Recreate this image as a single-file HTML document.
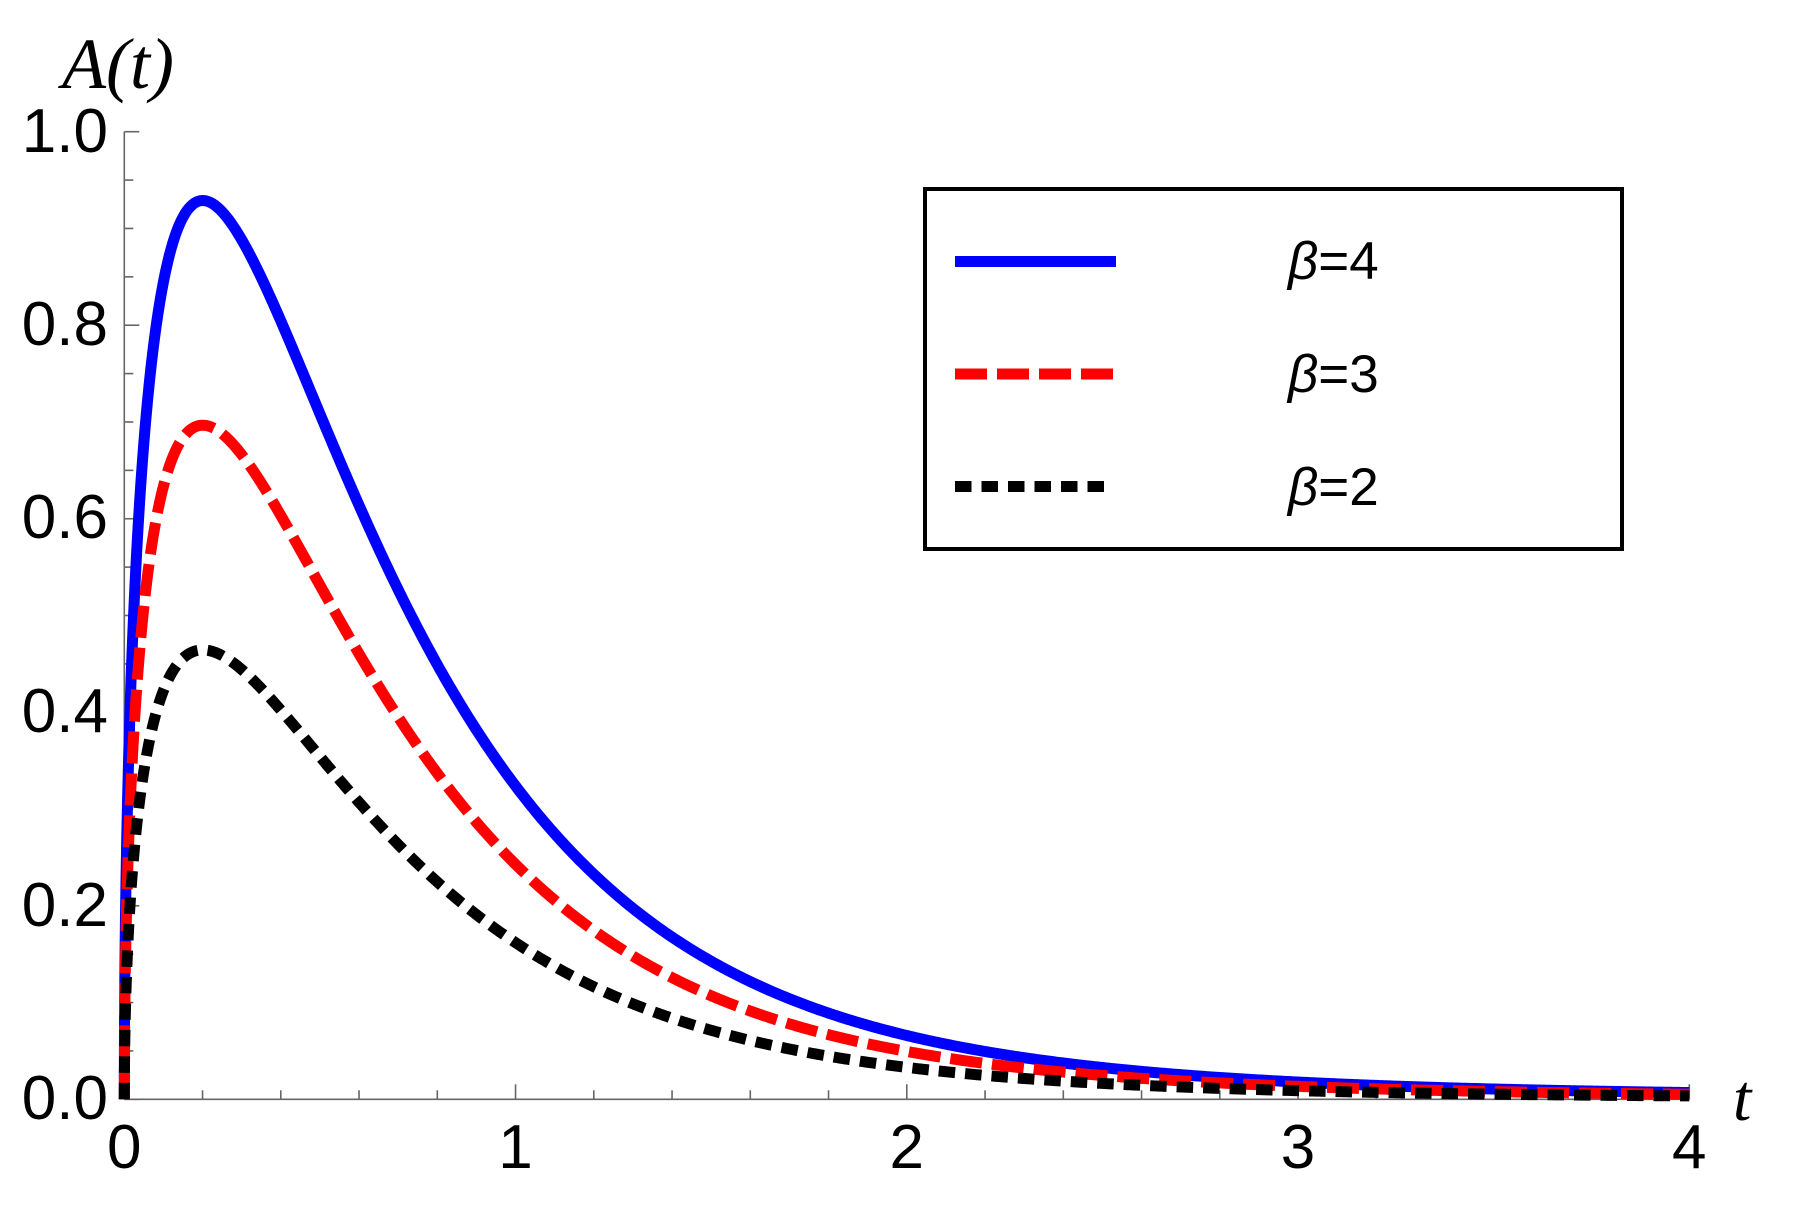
<!DOCTYPE html>
<html><head><meta charset="utf-8"><style>
html,body{margin:0;padding:0;background:#fff}
svg{display:block}
text{font-family:"Liberation Sans",sans-serif;fill:#000}
</style></head><body>
<svg id="s" width="1793" height="1212" viewBox="0 0 1793 1212" xmlns="http://www.w3.org/2000/svg">
<g id="axes" stroke="#666" stroke-width="1.6" fill="none"></g>
<g font-size="62">
<text x="108" y="1119" text-anchor="end">0.0</text>
<text x="108" y="926" text-anchor="end">0.2</text>
<text x="108" y="732" text-anchor="end">0.4</text>
<text x="108" y="538" text-anchor="end">0.6</text>
<text x="108" y="345" text-anchor="end">0.8</text>
<text x="108" y="152" text-anchor="end">1.0</text>
<text x="124.3" y="1168" text-anchor="middle">0</text>
<text x="515.5" y="1168" text-anchor="middle">1</text>
<text x="906.8" y="1168" text-anchor="middle">2</text>
<text x="1298" y="1168" text-anchor="middle">3</text>
<text x="1689.3" y="1168" text-anchor="middle">4</text>
</g>
<text x="1733" y="1120" font-size="66" font-style="italic" style="font-family:'Liberation Serif',serif">t</text>
<text x="62" y="88" font-size="72" font-style="italic" style="font-family:'Liberation Serif',serif">A(t)</text>
<g id="curves" fill="none" stroke-width="11"></g>
<rect x="925" y="189" width="697" height="360" fill="none" stroke="#000" stroke-width="4"/>
<line x1="955" y1="261.5" x2="1116" y2="261.5" stroke="#0000ff" stroke-width="11"/>
<line x1="955" y1="374" x2="1114" y2="374" stroke="#ff0000" stroke-width="11" stroke-dasharray="32 10"/>
<line x1="955" y1="486.5" x2="1110" y2="486.5" stroke="#000" stroke-width="11" stroke-dasharray="16.5 10"/>
<g font-size="53">
<text x="1288" y="279"><tspan font-style="italic">β</tspan>=4</text>
<text x="1288" y="392"><tspan font-style="italic">β</tspan>=3</text>
<text x="1288" y="505"><tspan font-style="italic">β</tspan>=2</text>
</g>
</svg>
<script>
(function(){
var NS="http://www.w3.org/2000/svg";
function X(t){return 124.3+t*391.25;}
function Y(v){return 1099.3-v*967.6;}
var ax=document.getElementById('axes');
function ln(x1,y1,x2,y2){var l=document.createElementNS(NS,'line');l.setAttribute('x1',x1);l.setAttribute('y1',y1);l.setAttribute('x2',x2);l.setAttribute('y2',y2);ax.appendChild(l);}
ln(124.3,1099.3,1689.3,1099.3);
ln(124.3,1099.3,124.3,131.7);
for(var i=0;i<=20;i++){var t=i*0.2;var maj=(i%5==0);ln(X(t),1099.3,X(t),1099.3-(maj?15:9));}
for(var j=0;j<=20;j++){var v=j*0.05;var maj2=(j%4==0);ln(124.3,Y(v),124.3+(maj2?15:9),Y(v));}
function f(t){return 3.45*Math.sqrt(t)*Math.exp(-(2.58*t-0.214*t*t));}
var ts=[];for(var a=0;a<0.1;a+=0.0005)ts.push(a);for(a=0.1;a<=4.0001;a+=0.005)ts.push(a);
function path(sc){return ts.map(function(t,i){return (i?'L':'M')+X(t).toFixed(2)+' '+Y(sc*f(t)).toFixed(2);}).join('');}
var g=document.getElementById('curves');
function add(sc,col,dash){var p=document.createElementNS(NS,'path');p.setAttribute('d',path(sc));p.setAttribute('stroke',col);if(dash)p.setAttribute('stroke-dasharray',dash);g.appendChild(p);}
add(1,'#0000ff',null);
add(0.75,'#ff0000','32 10');
add(0.5,'#000000','16.5 10');
})();
</script>
</body></html>
